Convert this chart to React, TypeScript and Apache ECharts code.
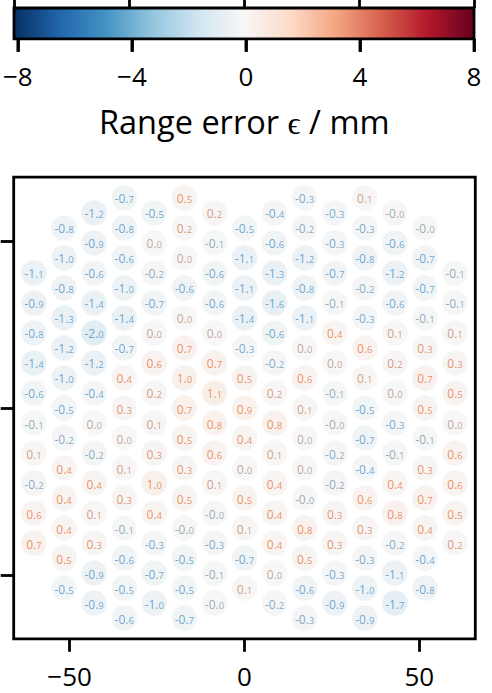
import React, { useEffect, useRef } from "react";
import * as echarts from "echarts";

// Hexagonal layout of measurement points (data units)
const colX = [-60.2, -51.6, -43.0, -34.4, -25.8, -17.2, -8.6, 0, 8.6, 17.2, 25.8, 34.4, 43.0, 51.6, 60.2];
const rowY = [
  63, 58.5, 54, 49.5, 45, 40.5, 36, 31.5, 27, 22.5, 18, 13.5, 9, 4.5, 0,
  -4.5, -9, -13.5, -18, -22.5, -27, -31.5, -36, -40.5, -45, -49.5, -54, -58.5, -63,
];
// first row index of each column (each column steps two rows)
const colStartRow = [5, 2, 1, 0, 1, 0, 1, 2, 1, 0, 1, 0, 1, 2, 5];

// Range error values (mm), top to bottom in each column
const col0 = [-1.1, -0.9, -0.8, -1.4, -0.6, -0.1, 0.1, -0.2, 0.6, 0.7];
const col1 = [-0.8, -1.0, -0.8, -1.3, -1.2, -1.0, -0.5, -0.2, 0.4, 0.4, 0.4, 0.5, -0.5];
const col2 = [-1.2, -0.9, -0.6, -1.4, -2.0, -1.2, -0.4, 0.0, -0.2, 0.4, 0.1, 0.3, -0.9, -0.9];
const col3 = [-0.7, -0.8, -0.6, -1.0, -1.4, -0.7, 0.4, 0.3, 0.0, 0.1, 0.3, -0.1, -0.6, -0.5, -0.6];
const col4 = [-0.5, 0.0, -0.2, -0.7, 0.0, 0.6, 0.2, 0.1, 0.3, 1.0, 0.4, -0.3, -0.7, -1.0];
const col5 = [0.5, 0.2, 0.0, -0.6, 0.0, 0.7, 1.0, 0.7, 0.5, 0.3, 0.5, -0.01, -0.5, -0.5, -0.7];
const col6 = [0.2, -0.1, -0.6, -0.6, 0.0, 0.7, 1.1, 0.8, 0.6, 0.1, -0.01, -0.3, -0.1, -0.01];
const col7 = [-0.5, -1.1, -1.1, -1.4, -0.3, 0.5, 0.9, 0.4, 0.0, 0.5, 0.1, -0.7, 0.1];
const col8 = [-0.4, -0.6, -1.3, -1.6, -0.6, -0.2, 0.2, 0.8, 0.1, 0.4, 0.4, 0.4, 0.0, -0.2];
const col9 = [-0.3, -0.2, -1.2, -0.8, -1.1, 0.0, 0.6, 0.1, 0.0, 0.0, -0.01, 0.8, 0.5, -0.6, -0.3];
const col10 = [-0.3, -0.3, -0.7, -0.1, 0.4, 0.0, -0.1, -0.01, -0.2, -0.2, 0.3, 0.3, -0.3, -0.9];
const col11 = [0.1, -0.3, -0.8, -0.2, -0.3, 0.6, 0.1, -0.5, -0.7, -0.4, 0.6, 0.3, -0.3, -1.0, -0.9];
const col12 = [-0.01, -0.6, -1.2, -0.6, 0.1, 0.2, 0.0, -0.3, -0.1, 0.4, 0.8, -0.2, -1.1, -1.7];
const col13 = [-0.01, -0.7, -0.7, -0.1, 0.3, 0.7, 0.5, -0.1, 0.3, 0.7, 0.4, -0.4, -0.8];
const col14 = [-0.1, -0.1, 0.1, 0.3, 0.5, 0.0, 0.6, 0.6, 0.5, 0.2];
const colValues = [col0, col1, col2, col3, col4, col5, col6, col7, col8, col9, col10, col11, col12, col13, col14];

const xTicks = [-50, 0, 50];
const yTicks = [-50, 0, 50];
const cbTicks = [-8, -4, 0, 4, 8];
const cbMin = -8;
const cbMax = 8;
const cbTitle = "Range error \u03f5 / mm";

const rdbuR = [
  "#053061", "#2166ac", "#4393c3", "#92c5de", "#d1e5f0", "#f7f7f7",
  "#fddbc7", "#f4a582", "#d6604d", "#b2182b", "#67001f",
];

const FONT = "Open Sans";

function hexToRgb(h: string): number[] {
  return [parseInt(h.slice(1, 3), 16), parseInt(h.slice(3, 5), 16), parseInt(h.slice(5, 7), 16)];
}
function mix(a: number[], b: number[], t: number): number[] {
  return [a[0] + (b[0] - a[0]) * t, a[1] + (b[1] - a[1]) * t, a[2] + (b[2] - a[2]) * t];
}
function rgbStr(c: number[]): string {
  return `rgb(${Math.round(c[0])},${Math.round(c[1])},${Math.round(c[2])})`;
}
function cmap(t: number): number[] {
  const tt = Math.max(0, Math.min(1, t));
  const p = tt * (rdbuR.length - 1);
  const i = Math.min(rdbuR.length - 2, Math.floor(p));
  return mix(hexToRgb(rdbuR[i]), hexToRgb(rdbuR[i + 1]), p - i);
}
function fillColor(v: number): string {
  const c = cmap((v - cbMin) / (cbMax - cbMin));
  return rgbStr(mix(c, [242, 242, 242], 0.5));
}
const GRAY = [160, 152, 146];
const ORANGE = [232, 118, 60];
const BLUE = [74, 147, 203];
function textColor(v: number): string {
  const t = Math.min(1, 0.25 + (Math.abs(v) / 0.4) * 0.75);
  return rgbStr(mix(GRAY, v >= 0 ? ORANGE : BLUE, t));
}
function fmtMinus(v: number): string {
  return v < 0 ? "\u2212" + Math.abs(v) : String(v);
}

function buildPoints() {
  const pts: any[] = [];
  colValues.forEach((vals, ci) => {
    vals.forEach((v, k) => {
      const tc = textColor(v);
      pts.push({
        value: [colX[ci], rowY[colStartRow[ci] + 2 * k], v],
        itemStyle: { color: fillColor(v) },
        label: {
          rich: {
            a: { color: tc, fontSize: 12, fontFamily: FONT, verticalAlign: "bottom", lineHeight: 14 },
            b: { color: tc, fontSize: 9.5, fontFamily: FONT, verticalAlign: "bottom", lineHeight: 14 },
          },
        },
      });
    });
  });
  return pts;
}

export default function App() {
  const ref = useRef<HTMLDivElement>(null);
  useEffect(() => {
    if (!ref.current) return;
    const chart = echarts.init(ref.current, undefined, { renderer: "svg" });
    const tick = (len: number, values: number[]) => ({
      show: true, length: len, customValues: values,
      lineStyle: { color: "#000", width: 2.8 },
    });
    const stops = rdbuR.map((c, i) => ({ offset: i / (rdbuR.length - 1), color: c }));
    const noLine = () => ({ show: false, onZero: false });
    const barTop = 8;
    const barH = 30.8;
    const baseGraphic: any[] = [
      {
        type: "rect",
        shape: { x: 14, y: barTop, width: 460, height: barH },
        style: { fill: new echarts.graphic.LinearGradient(0, 0, 1, 0, stops), stroke: "#000", lineWidth: 2.8 },
        z: -1,
      },
      {
        type: "text",
        x: 244.3,
        y: 121,
        style: { text: cbTitle, fontSize: 32.5, fontFamily: FONT, fill: "#000", align: "center", verticalAlign: "middle" },
        z: 10,
      },
    ];
    const option: any = {
      animation: false,
      textStyle: { fontFamily: FONT },
      grid: [
        { left: 13.7, top: 177.2, width: 461.6, height: 461.6, show: true, borderColor: "#000", borderWidth: 2.8, backgroundColor: "transparent" },
        { left: 14, top: barTop, width: 460, height: barH },
        { left: 14, top: barTop, width: 460, height: barH },
      ],
      xAxis: [
        {
          gridIndex: 0, type: "value", min: -66, max: 66, position: "bottom",
          axisLine: noLine(), splitLine: { show: false },
          axisTick: tick(13, xTicks),
          axisLabel: { customValues: xTicks, formatter: fmtMinus, fontSize: 26, color: "#000", margin: 24, fontFamily: FONT },
        },
        {
          gridIndex: 1, type: "value", min: cbMin, max: cbMax, position: "bottom",
          axisLine: noLine(), splitLine: { show: false },
          axisTick: tick(13, cbTicks),
          axisLabel: { customValues: cbTicks, formatter: fmtMinus, fontSize: 26, color: "#000", margin: 24, fontFamily: FONT },
        },
        {
          gridIndex: 2, type: "value", min: cbMin, max: cbMax, position: "top",
          axisLine: noLine(), splitLine: { show: false },
          axisTick: tick(8, cbTicks),
          axisLabel: { show: false },
        },
      ],
      yAxis: [
        {
          gridIndex: 0, type: "value", min: -69.2, max: 69.2, position: "left",
          axisLine: noLine(), splitLine: { show: false },
          axisTick: tick(13, yTicks),
          axisLabel: { show: false },
        },
        { gridIndex: 1, type: "value", min: 0, max: 1, show: false },
        { gridIndex: 2, type: "value", min: 0, max: 1, show: false },
      ],
      series: [
        {
          type: "scatter",
          xAxisIndex: 0,
          yAxisIndex: 0,
          symbol: "circle",
          symbolSize: 25.5,
          data: buildPoints(),
          label: {
            show: true,
            position: "inside",
            formatter: (p: any) => {
              const s = (p.value[2] as number).toFixed(1);
              return `{a|${s.slice(0, -1)}}{b|${s.slice(-1)}}`;
            },
          },
          emphasis: { disabled: true },
        },
      ],
      graphic: baseGraphic,
    };
    chart.setOption(option);
    // colour-bar ticks below the bar, placed through the colour-bar axis scale
    const tickLines = cbTicks.map((v) => {
      const px = chart.convertToPixel({ xAxisIndex: 1 }, v) as unknown as number;
      return {
        type: "line",
        shape: { x1: px, y1: barTop + barH, x2: px, y2: barTop + barH + 13 },
        style: { stroke: "#000", lineWidth: 2.8 },
        z: 100,
      };
    });
    chart.setOption({ graphic: [...baseGraphic, ...tickLines] });
    return () => chart.dispose();
  }, []);
  return (
    <div
      ref={ref}
      style={{ position: "fixed", left: 0, top: 0, width: "492px", height: "693px", background: "#fff" }}
    />
  );
}
